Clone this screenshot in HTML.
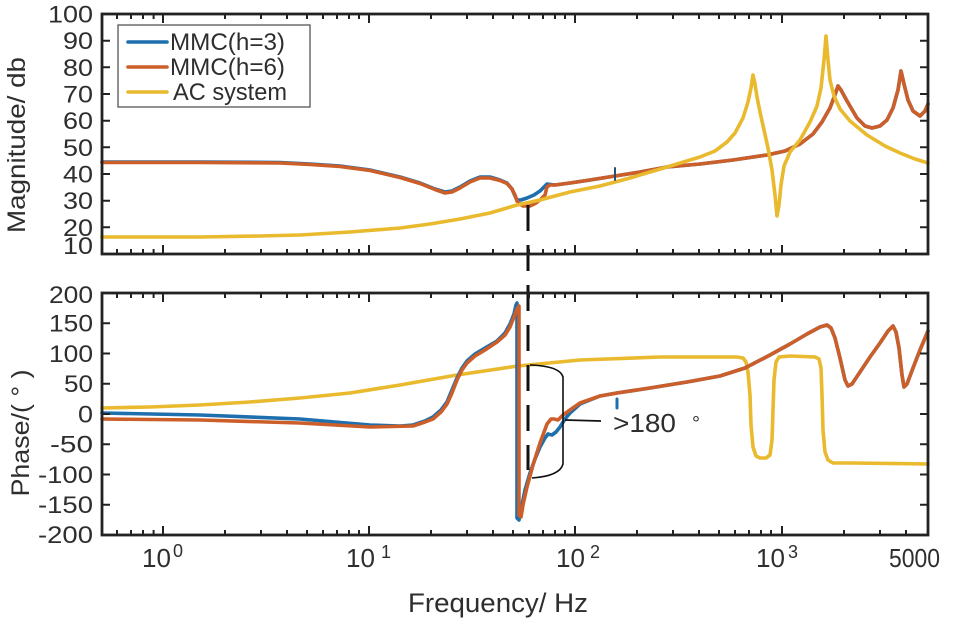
<!DOCTYPE html>
<html><head><meta charset="utf-8"><style>
html,body{margin:0;padding:0;background:#fff;}
svg{display:block;}
text{font-family:"Liberation Sans",Arial,sans-serif;fill:#2e2e2e;}
</style></head><body>
<svg width="955" height="625" viewBox="0 0 955 625" xmlns="http://www.w3.org/2000/svg">
<rect width="955" height="625" fill="#fff"/>

<!-- ===== TOP PANEL curves ===== -->
<g fill="none" stroke-width="3.6" stroke-linejoin="round" stroke-linecap="round">
<polyline stroke="#1d6fae" points="102,162 200,162 280,162.5 310,164 340,166 370,170 400,177 420,183 435,189 445,192 452,191 460,187 470,181 480,177 490,177 500,180 507,183 512,189 515,196 517,200 521,200 527,198 534,195 540,191 547,184 555,185 570,183 590,180 615,176 640,172 667,167 700,164 733,160 767,155 785,151 800,144 813,134 822,122 830,108 836,92 838,86 841,90 847,101 857,118 865,126 872,128 880,126 887,120 893,108 898,90 901,71 904,84 908,100 913,111 920,116 925,111 928,104"/>
<polyline stroke="#cc5e2a" points="102,162.5 200,162.5 280,163 310,164.5 340,166.5 370,170.5 400,177.5 420,183.5 435,189.5 445,193 452,192 460,188 470,182 480,178 490,178 500,180.5 507,183.5 512,189 515,195 517,201 520,204 523,206 530,206 536,203 541,199 545,195 547,187 550,185 555,185 570,183 590,180 615,176 640,172 667,167 700,164 733,160 767,155 785,151 800,144 813,134 822,122 830,108 836,92 838,86 841,90 847,101 857,118 865,126 872,128 880,126 887,120 893,108 898,90 901,71 904,84 908,100 913,111 920,116 925,111 928,104"/>
<polyline stroke="#e9b92e" points="102,237 200,237 260,236 300,235 350,232 400,228 430,224 460,219 490,213 517,205 540,200 570,192 600,186 630,178 667,167 700,157 715,151 727,142 735,133 743,118 748,102 751,88 753,75 755,84 757,97 760,112 764,130 768,148 772,170 775,195 777,216 779,205 781,185 784,166 790,152 800,140 810,122 817,106 821,88 824,60 826,36 828,60 830,80 834,96 840,109 850,121 867,135 885,146 900,153 915,159 928,163"/>
<line x1="615" y1="168" x2="615" y2="180" stroke="#2c4f6e" stroke-width="2"/>
</g>

<!-- ===== BOTTOM PANEL curves ===== -->
<g fill="none" stroke-width="3.6" stroke-linejoin="round" stroke-linecap="round">
<polyline stroke="#e9b92e" points="102,408 150,407 200,405 250,402 300,398 350,393 400,385 457,375 518,366 580,360 660,357 737,357 743,358 746,362 748,372 750,395 751,425 753,447 756,456 760,458 766,458 770,455 772,440 773,410 774,380 776,362 779,357 790,356 815,357 819,359 821,368 822,395 823,430 825,452 828,460 833,463 853,463 928,464"/>
<polyline stroke="#1d6fae" points="102,413 200,415 300,419 370,425 400,426 413,425 425,421 433,417 441,410 447,402 452,390 457,378 462,368 467,361 475,354 485,348 497,341 505,333 510,324 514,314 516,305 517,303 517,518 519,520 522,505 525,490 530,473 535,459 540,447 545,438 548,434 552,435 556,432 560,427 565,419 570,413 580,404 600,396 617,393 650,388 687,382 720,376 745,368 770,355 790,344 807,334 820,327 827,325 831,328 835,338 840,358 845,380 848,386 852,384 860,372 870,357 880,343 888,331 893,326 896,332 899,348 902,375 904,387 907,384 913,368 920,350 928,331"/>
<polyline stroke="#cc5e2a" points="102,419 200,420 300,423 370,427 413,426 425,422 433,419 441,412 447,404 452,393 457,380 462,370 467,363 475,356 485,350 497,342 505,335 510,327 514,317 517,309 519,306 519,515 521,517 523,505 527,487 533,465 540,443 547,424 551,419 554,419 558,420 563,415 570,410 580,403 600,396 617,393 650,388 687,382 720,376 745,368 770,355 790,344 807,334 820,327 827,325 831,328 835,338 840,358 845,380 848,386 852,384 860,372 870,357 880,343 888,331 893,326 896,332 899,348 902,375 904,387 907,384 913,368 920,350 928,331"/>
<line x1="617" y1="399" x2="617" y2="408" stroke="#1d6fae" stroke-width="3"/>
</g>

<line x1="528" y1="205" x2="528" y2="470" stroke="#111" stroke-width="3" stroke-dasharray="26 14"/>

<path d="M530,365 Q560,366 563,377 L563,464 Q560,476 532,478" fill="none" stroke="#111" stroke-width="1.6"/>
<line x1="565" y1="420" x2="601" y2="421" stroke="#111" stroke-width="1.8"/>
<text x="613" y="432" font-size="26" textLength="63" lengthAdjust="spacingAndGlyphs">&gt;180</text>
<text x="692" y="430" font-size="20">°</text>

<g fill="none" stroke="#222" stroke-width="2.8">
<rect x="102" y="14" width="826" height="240"/>
<rect x="102" y="293" width="826" height="242"/>
</g>

<g stroke="#222" stroke-width="2" fill="none">
<path d="M102,40.7h8M102,67.3h8M102,94h8M102,120.7h8M102,147.3h8M102,174h8M102,200.7h8M102,227.3h8
M928,40.7h-8M928,67.3h-8M928,94h-8M928,120.7h-8M928,147.3h-8M928,174h-8M928,200.7h-8M928,227.3h-8"/>
<path d="M102,323.3h8M102,353.5h8M102,383.8h8M102,414h8M102,444.3h8M102,474.5h8M102,504.8h8
M928,323.3h-8M928,353.5h-8M928,383.8h-8M928,414h-8M928,444.3h-8M928,474.5h-8M928,504.8h-8"/>
<path d="M163,14v9M369,14v9M575,14v9M782,14v9
M163,254v-9M369,254v-9M575,254v-9M782,254v-9
M163,293v9M369,293v9M575,293v9M782,293v9
M163,535v-9M369,535v-9M575,535v-9M782,535v-9"/>
<path d="M117,14v5M131,14v5M143,14v5M153.6,14v5
M225,14v5M261,14v5M287,14v5M307,14v5M323,14v5M337,14v5M349,14v5M359,14v5
M431,14v5M467,14v5M493,14v5M513,14v5M529,14v5M543,14v5M555,14v5M565,14v5
M637,14v5M673,14v5M699,14v5M719,14v5M735,14v5M749,14v5M761,14v5M771,14v5
M844,14v5M880,14v5M906,14v5"/>
<path d="M117,254v-5M131,254v-5M143,254v-5M153.6,254v-5
M225,254v-5M261,254v-5M287,254v-5M307,254v-5M323,254v-5M337,254v-5M349,254v-5M359,254v-5
M431,254v-5M467,254v-5M493,254v-5M513,254v-5M529,254v-5M543,254v-5M555,254v-5M565,254v-5
M637,254v-5M673,254v-5M699,254v-5M719,254v-5M735,254v-5M749,254v-5M761,254v-5M771,254v-5
M844,254v-5M880,254v-5M906,254v-5"/>
<path d="M117,293v5M131,293v5M143,293v5M153.6,293v5
M225,293v5M261,293v5M287,293v5M307,293v5M323,293v5M337,293v5M349,293v5M359,293v5
M431,293v5M467,293v5M493,293v5M513,293v5M529,293v5M543,293v5M555,293v5M565,293v5
M637,293v5M673,293v5M699,293v5M719,293v5M735,293v5M749,293v5M761,293v5M771,293v5
M844,293v5M880,293v5M906,293v5"/>
<path d="M117,535v-5M131,535v-5M143,535v-5M153.6,535v-5
M225,535v-5M261,535v-5M287,535v-5M307,535v-5M323,535v-5M337,535v-5M349,535v-5M359,535v-5
M431,535v-5M467,535v-5M493,535v-5M513,535v-5M529,535v-5M543,535v-5M555,535v-5M565,535v-5
M637,535v-5M673,535v-5M699,535v-5M719,535v-5M735,535v-5M749,535v-5M761,535v-5M771,535v-5
M844,535v-5M880,535v-5M906,535v-5"/>
</g>

<rect x="118" y="25" width="192" height="82" fill="#fff" stroke="#555" stroke-width="1.3"/>
<g stroke-width="3.6" stroke-linecap="round">
<line x1="128" y1="42" x2="167" y2="42" stroke="#1d6fae"/>
<line x1="128" y1="67" x2="167" y2="67" stroke="#cc5e2a"/>
<line x1="128" y1="92" x2="167" y2="92" stroke="#e9b92e"/>
</g>
<text x="170" y="50" font-size="24" textLength="115" lengthAdjust="spacingAndGlyphs">MMC(h=3)</text>
<text x="170" y="75" font-size="24" textLength="115" lengthAdjust="spacingAndGlyphs">MMC(h=6)</text>
<text x="173" y="100" font-size="24" textLength="114" lengthAdjust="spacingAndGlyphs">AC system</text>

<g font-size="24">
<text x="48" y="22.5" textLength="45" lengthAdjust="spacingAndGlyphs">100</text>
<text x="63" y="49" textLength="30" lengthAdjust="spacingAndGlyphs">90</text>
<text x="63" y="75.8" textLength="30" lengthAdjust="spacingAndGlyphs">80</text>
<text x="63" y="102.5" textLength="30" lengthAdjust="spacingAndGlyphs">70</text>
<text x="63" y="129" textLength="30" lengthAdjust="spacingAndGlyphs">60</text>
<text x="63" y="155.8" textLength="30" lengthAdjust="spacingAndGlyphs">50</text>
<text x="63" y="182.5" textLength="30" lengthAdjust="spacingAndGlyphs">40</text>
<text x="63" y="209" textLength="30" lengthAdjust="spacingAndGlyphs">30</text>
<text x="63" y="235.8" textLength="30" lengthAdjust="spacingAndGlyphs">20</text>
<text x="63" y="254" textLength="30" lengthAdjust="spacingAndGlyphs">10</text>
</g>
<g font-size="24">
<text x="49" y="303" textLength="44" lengthAdjust="spacingAndGlyphs">200</text>
<text x="49" y="331.5" textLength="44" lengthAdjust="spacingAndGlyphs">150</text>
<text x="49" y="361.8" textLength="44" lengthAdjust="spacingAndGlyphs">100</text>
<text x="64" y="392" textLength="29" lengthAdjust="spacingAndGlyphs">50</text>
<text x="78" y="422.3" textLength="15" lengthAdjust="spacingAndGlyphs">0</text>
<text x="50" y="452.5" textLength="43" lengthAdjust="spacingAndGlyphs">-50</text>
<text x="38" y="482.8" textLength="55" lengthAdjust="spacingAndGlyphs">-100</text>
<text x="38" y="513" textLength="55" lengthAdjust="spacingAndGlyphs">-150</text>
<text x="38" y="543" textLength="55" lengthAdjust="spacingAndGlyphs">-200</text>
</g>

<g font-size="26">
<text x="142" y="567">10</text><text x="173" y="557" font-size="18">0</text>
<text x="346" y="567">10</text><text x="381" y="558" font-size="18">1</text>
<text x="556" y="567">10</text><text x="590" y="558" font-size="18">2</text>
<text x="756" y="567">10</text><text x="788" y="558" font-size="18">3</text>
<text x="889" y="567" textLength="51" lengthAdjust="spacingAndGlyphs">5000</text>
</g>

<text x="408" y="612" font-size="27" textLength="180" lengthAdjust="spacingAndGlyphs">Frequency/ Hz</text>
<text transform="translate(25,145) rotate(-90)" text-anchor="middle" font-size="25" textLength="176" lengthAdjust="spacingAndGlyphs">Magnitude/  db</text>
<text transform="translate(29,433) rotate(-90)" text-anchor="middle" font-size="25" textLength="127" lengthAdjust="spacingAndGlyphs">Phase/( ° )</text>
</svg>
</body></html>
